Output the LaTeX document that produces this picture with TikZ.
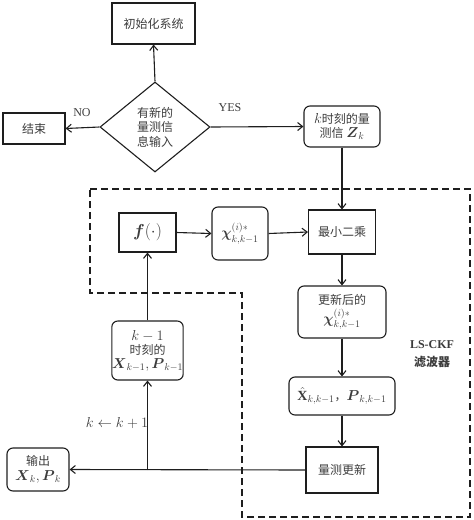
\documentclass[tikz,border=0pt]{standalone}
\usepackage{fontspec}
\usepackage{amsmath,amssymb}
\usepackage{xcolor}
\usetikzlibrary{arrows.meta,shapes.geometric}
\setmainfont{Liberation Serif}
\newfontfamily\cjk{Noto Sans CJK SC}
\definecolor{flowline}{RGB}{30,30,30}
\definecolor{flowtext}{RGB}{60,60,60}
\newcommand{\flowmath}[1]{{\fontsize{14}{15}\selectfont$#1$}}

\begin{document}
\begin{tikzpicture}[x=1pt,y=-1pt,
    line width=1.1pt,
    flowarrow/.style={draw=flowline, -{Straight Barb[length=5pt,width=8pt]}},
    sqbox/.style={draw=flowline, rectangle, inner sep=1pt, align=center,
        text=flowtext, font=\cjk\fontsize{12}{15}\selectfont},
    rdbox/.style={sqbox, rounded corners=6pt},
    lbl/.style={text=flowtext, font=\fontsize{12}{14}\selectfont}]
    \useasboundingbox (0,0) rectangle (474,520);

    % top part
    \node[sqbox, minimum width=83pt, minimum height=41pt] (init) at (153.5,23.5) {初始化系统};
    \node[sqbox, diamond, minimum width=110pt, minimum height=90pt, inner sep=0pt,
        font=\cjk\fontsize{12}{14.5}\selectfont] (dec) at (155,127) {有新的\\量测信\\息输入};
    \node[sqbox, minimum width=62pt, minimum height=31pt] (stop) at (34,128.5) {结束};
    \node[rdbox, minimum width=76pt, minimum height=41pt,
        font=\cjk\fontsize{12}{14}\selectfont] (meas) at (342,126.5)
        {\flowmath{k}时刻的量\\测信 \flowmath{\boldsymbol{Z}_k}};

    % filter part
    \node[sqbox, minimum width=57pt, minimum height=39pt] (fun) at (147.5,232.5)
        {{\fontsize{17}{18}\selectfont$\boldsymbol{f}(\cdot)$}};
    \node[rdbox, minimum width=56pt, minimum height=53pt] (chi) at (240,233.5)
        {\flowmath{\boldsymbol{\chi}^{(i)*}_{k,k-1}}};
    \node[sqbox, minimum width=67pt, minimum height=44pt] (lsq) at (342,232) {最小二乘};
    \node[rdbox, minimum width=88pt, minimum height=52pt,
        font=\cjk\fontsize{12}{19}\selectfont] (upd) at (342,312)
        {更新后的\\\flowmath{\boldsymbol{\chi}^{(i)*}_{k,k-1}}};
    \node[rdbox, minimum width=106pt, minimum height=38pt] (pred) at (342,396)
        {\flowmath{\hat{\mathbf{X}}_{k,k-1}}，\flowmath{\boldsymbol{P}_{k,k-1}}};
    \node[sqbox, minimum width=72pt, minimum height=46pt] (mupd) at (342,470) {量测更新};

    % loop back
    \node[rdbox, minimum width=69pt, minimum height=59pt, inner sep=0pt,
        font=\cjk\fontsize{12}{14}\selectfont] (prev) at (147.5,350.5)
        {\flowmath{k-1}\\时刻的\\\flowmath{\boldsymbol{X}_{k-1},\boldsymbol{P}_{k-1}}};
    \node[rdbox, minimum width=62pt, minimum height=43pt,
        font=\cjk\fontsize{12}{15}\selectfont] (out) at (38,469.5)
        {输出\\\flowmath{\boldsymbol{X}_k,\boldsymbol{P}_k}};
    \coordinate (jn) at (147.5,470);

    % dashed frame of the filter
    \draw[flowline, dash pattern=on 7pt off 4pt]
        (90,189) -- (470,189) -- (470,517) -- (242,517) -- (242,293) -- (90,293) -- cycle;

    % connectors
    \draw[flowarrow] (dec.north) -- (init.south);
    \draw[flowarrow] (dec.west) -- (stop.east);
    \draw[flowarrow] (dec.east) -- (meas.west);
    \draw[flowarrow] (meas.south) -- (lsq.north);
    \draw[flowarrow] (fun.east) -- (chi.west);
    \draw[flowarrow] (chi.east) -- (lsq.west);
    \draw[flowarrow] (lsq.south) -- (upd.north);
    \draw[flowarrow] (upd.south) -- (pred.north);
    \draw[flowarrow] (pred.south) -- (mupd.north);
    \draw[flowarrow] (mupd.west) -- (out.east);
    \draw[flowarrow] (jn) -- (prev.south);
    \draw[flowarrow] (prev.north) -- (fun.south);

    % labels
    \node[lbl] (nolbl) at (82,113) {NO};
    \node[lbl] (yeslbl) at (230,108) {YES};
    \node[lbl] (inc) at (117,423) {\flowmath{k\leftarrow k+1}};
    \node[lbl, font=\bfseries\fontsize{12}{14}\selectfont] (lsckf) at (432,345) {LS-CKF};
    \node[lbl, font=\cjk\bfseries\fontsize{12}{14}\selectfont] (filt) at (432,362) {滤波器};
\end{tikzpicture}
\end{document}
